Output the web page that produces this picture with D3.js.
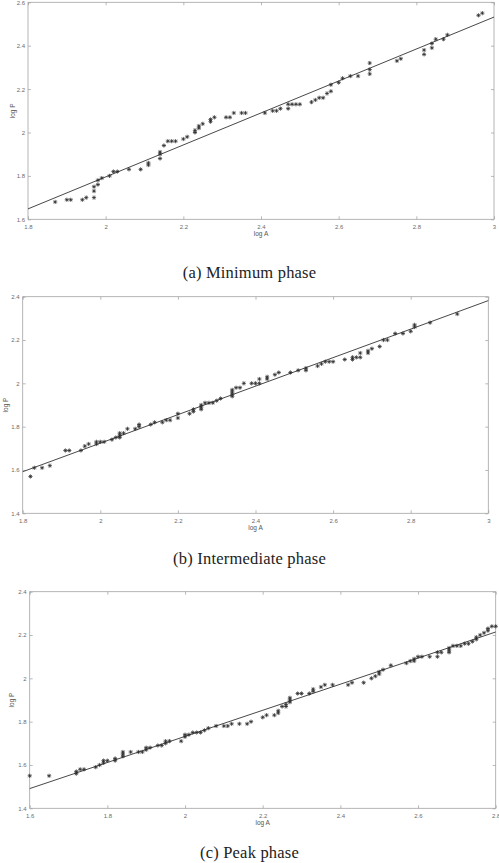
<!DOCTYPE html>
<html>
<head>
<meta charset="utf-8">
<script src="https://cdn.jsdelivr.net/npm/d3@7"></script>
<style>
  body { margin: 0; background: #fff; }
  svg { display: block; }
  .tick text { font-family: "Liberation Sans", Arial, sans-serif; font-size: 6px; fill: #6b6b6b; }
  .tick line { stroke: #8a8a8a; stroke-width: 0.6; }
  .axis-label { font-family: "Liberation Sans", Arial, sans-serif; font-size: 6.5px; fill: #555; }
  .caption { font-family: "Liberation Serif", "DejaVu Serif", serif; font-size: 16.5px; letter-spacing: 0.2px; fill: #222; }
</style>
</head>
<body>
<div id="chart"></div>
<script>
// (a) Minimum phase
const minA = [1.87,1.90,1.91,1.94,1.95,1.97,1.97,1.97,1.98,1.98,1.99,2.01,2.02,2.03,2.06,2.09,2.11,2.11,2.14,2.14,2.14,2.15,2.16,2.17,2.18,2.20,2.21,2.23,2.23,2.24,2.24,2.25,2.27,2.27,2.28,2.31,2.32,2.33,2.35,2.36,2.41,2.43,2.44,2.45,2.47,2.47,2.48,2.49,2.50,2.53,2.54,2.55,2.56,2.57,2.58,2.58,2.60,2.61,2.63,2.65,2.68,2.68,2.68,2.75,2.76,2.82,2.82,2.84,2.84,2.85,2.87,2.88,2.96,2.97];
const minP = [1.68,1.69,1.69,1.69,1.70,1.70,1.73,1.75,1.76,1.78,1.79,1.80,1.82,1.82,1.83,1.83,1.85,1.86,1.88,1.90,1.91,1.94,1.96,1.96,1.96,1.97,1.98,2.00,2.01,2.02,2.03,2.04,2.05,2.06,2.07,2.07,2.07,2.09,2.09,2.09,2.09,2.10,2.10,2.11,2.11,2.13,2.13,2.13,2.13,2.14,2.15,2.16,2.16,2.18,2.19,2.22,2.23,2.25,2.26,2.26,2.27,2.29,2.32,2.33,2.34,2.36,2.38,2.39,2.41,2.43,2.43,2.45,2.54,2.55];
const minFit = [[1.8, 1.648], [3.0, 2.532]];

// (b) Intermediate phase
const midA = [1.82,1.83,1.85,1.87,1.91,1.92,1.95,1.96,1.97,1.99,1.99,2.00,2.01,2.03,2.04,2.05,2.05,2.05,2.06,2.07,2.09,2.10,2.10,2.13,2.14,2.16,2.17,2.18,2.20,2.20,2.23,2.24,2.24,2.26,2.26,2.26,2.27,2.28,2.29,2.30,2.31,2.34,2.34,2.34,2.34,2.35,2.36,2.37,2.39,2.40,2.41,2.41,2.43,2.43,2.45,2.46,2.49,2.51,2.53,2.53,2.56,2.57,2.58,2.59,2.60,2.63,2.65,2.65,2.66,2.67,2.67,2.69,2.69,2.70,2.72,2.73,2.74,2.76,2.78,2.80,2.81,2.81,2.85,2.92];
const midP = [1.57,1.61,1.61,1.62,1.69,1.69,1.69,1.71,1.72,1.72,1.73,1.73,1.73,1.74,1.75,1.75,1.76,1.77,1.77,1.79,1.79,1.80,1.81,1.81,1.82,1.82,1.83,1.83,1.84,1.86,1.86,1.87,1.88,1.88,1.89,1.90,1.91,1.91,1.91,1.92,1.93,1.94,1.95,1.96,1.97,1.98,1.98,2.00,2.00,2.00,2.00,2.02,2.02,2.03,2.04,2.05,2.05,2.06,2.06,2.07,2.08,2.09,2.10,2.10,2.10,2.11,2.11,2.12,2.12,2.12,2.14,2.14,2.15,2.16,2.17,2.20,2.20,2.23,2.23,2.24,2.26,2.27,2.28,2.32];
const midFit = [[1.8, 1.592], [3.0, 2.382]];

// (c) Peak phase
const peakA = [1.60,1.65,1.72,1.72,1.73,1.74,1.77,1.78,1.79,1.79,1.80,1.82,1.82,1.84,1.84,1.84,1.86,1.88,1.89,1.90,1.90,1.91,1.93,1.94,1.95,1.95,1.96,1.99,2.00,2.00,2.01,2.02,2.03,2.04,2.05,2.06,2.08,2.10,2.11,2.12,2.14,2.16,2.17,2.20,2.21,2.23,2.24,2.24,2.25,2.26,2.26,2.27,2.27,2.27,2.29,2.30,2.32,2.33,2.33,2.35,2.36,2.38,2.42,2.43,2.46,2.48,2.49,2.50,2.50,2.51,2.53,2.57,2.58,2.59,2.59,2.60,2.61,2.63,2.65,2.65,2.66,2.68,2.68,2.68,2.69,2.70,2.71,2.72,2.73,2.74,2.75,2.75,2.76,2.77,2.78,2.78,2.79,2.80];
const peakP = [1.55,1.55,1.56,1.57,1.58,1.58,1.59,1.60,1.61,1.62,1.62,1.62,1.63,1.64,1.65,1.66,1.66,1.66,1.66,1.67,1.68,1.68,1.69,1.69,1.70,1.71,1.71,1.71,1.73,1.74,1.74,1.75,1.75,1.75,1.76,1.77,1.78,1.78,1.78,1.79,1.79,1.79,1.80,1.82,1.83,1.83,1.84,1.85,1.87,1.87,1.88,1.89,1.90,1.91,1.93,1.93,1.93,1.94,1.95,1.96,1.97,1.97,1.97,1.98,1.98,2.00,2.01,2.02,2.03,2.04,2.06,2.07,2.08,2.08,2.09,2.10,2.10,2.10,2.10,2.12,2.12,2.12,2.13,2.14,2.15,2.15,2.15,2.16,2.16,2.17,2.18,2.19,2.20,2.21,2.22,2.23,2.24,2.24];
const peakFit = [[1.6, 1.491], [2.8, 2.214]];

// tick values
const ticksA1 = [1.8, 2, 2.2, 2.4, 2.6, 2.8, 3];
const ticksP1 = [1.6, 1.8, 2, 2.2, 2.4, 2.6];
const ticksA2 = [1.8, 2, 2.2, 2.4, 2.6, 2.8, 3];
const ticksP2 = [1.4, 1.6, 1.8, 2, 2.2, 2.4];
const ticksA3 = [1.6, 1.8, 2, 2.2, 2.4, 2.6, 2.8];
const ticksP3 = [1.4, 1.6, 1.8, 2, 2.2, 2.4];

const captions = ["(a) Minimum phase", "(b) Intermediate phase", "(c) Peak phase"];

const W = 499, H = 863;

const panels = [
  { a: minA, p: minP, fit: minFit, ta: ticksA1, tp: ticksP1,
    box: { left: 28, right: 494, top: 2.3, bottom: 219.3 }, ylabX: 12.5, capY: 278 },
  { a: midA, p: midP, fit: midFit, ta: ticksA2, tp: ticksP2,
    box: { left: 22.7, right: 488.3, top: 296.7, bottom: 513.3 }, ylabX: 6, capY: 564 },
  { a: peakA, p: peakP, fit: peakFit, ta: ticksA3, tp: ticksP3,
    box: { left: 29.7, right: 495.7, top: 591.7, bottom: 808.3 }, ylabX: 12, capY: 858 }
];

const svg = d3.select("#chart")
  .append("svg")
  .attr("width", W)
  .attr("height", H);

const fmt = (d) => String(+d.toFixed(1));

panels.forEach((cfg, i) => {
  const { box } = cfg;
  const x = d3.scaleLinear()
    .domain(d3.extent(cfg.ta))
    .range([box.left, box.right]);
  const y = d3.scaleLinear()
    .domain(d3.extent(cfg.tp))
    .range([box.bottom, box.top]);

  const g = svg.append("g");

  // Axes (ticks inward, on all four sides)
  g.append("g")
    .attr("transform", `translate(0,${box.bottom})`)
    .call(d3.axisBottom(x).tickValues(cfg.ta).tickFormat(fmt)
      .tickSizeInner(-3).tickSizeOuter(0).tickPadding(5));
  g.append("g")
    .attr("transform", `translate(0,${box.top})`)
    .call(d3.axisTop(x).tickValues(cfg.ta).tickFormat("")
      .tickSizeInner(-3).tickSizeOuter(0));
  g.append("g")
    .attr("transform", `translate(${box.left},0)`)
    .call(d3.axisLeft(y).tickValues(cfg.tp).tickFormat(fmt)
      .tickSizeInner(-3).tickSizeOuter(0).tickPadding(3));
  g.append("g")
    .attr("transform", `translate(${box.right},0)`)
    .call(d3.axisRight(y).tickValues(cfg.tp).tickFormat("")
      .tickSizeInner(-3).tickSizeOuter(0));

  g.selectAll(".domain").remove();

  // Frame
  g.append("rect")
    .attr("x", box.left)
    .attr("y", box.top)
    .attr("width", box.right - box.left)
    .attr("height", box.bottom - box.top)
    .attr("fill", "none")
    .attr("stroke", "#a3a3a3")
    .attr("stroke-width", 0.8);

  // Fitted line
  g.append("path")
    .datum(cfg.fit)
    .attr("fill", "none")
    .attr("stroke", "#333")
    .attr("stroke-width", 0.9)
    .attr("d", d3.line().x((d) => x(d[0])).y((d) => y(d[1])));

  // Asterisk markers
  const pts = cfg.a.map((v, j) => [v, cfg.p[j]]);
  const s = 2.1;
  g.append("g")
    .selectAll("path")
    .data(pts)
    .join("path")
    .attr("transform", (d) => `translate(${x(d[0])},${y(d[1])})`)
    .attr("d", `M${-s},0H${s}M0,${-s}V${s}M${-s * 0.7},${-s * 0.7}L${s * 0.7},${s * 0.7}M${-s * 0.7},${s * 0.7}L${s * 0.7},${-s * 0.7}`)
    .attr("stroke", "#2b2b2b")
    .attr("stroke-width", 0.75)
    .attr("fill", "none");

  // Axis labels
  g.append("text")
    .attr("class", "axis-label")
    .attr("x", (box.left + box.right) / 2)
    .attr("y", box.bottom + 17)
    .attr("text-anchor", "middle")
    .text("log A");

  g.append("text")
    .attr("class", "axis-label")
    .attr("transform", `translate(${cfg.ylabX},${(box.top + box.bottom) / 2}) rotate(-90)`)
    .attr("dy", "0.35em")
    .attr("text-anchor", "middle")
    .text("log P");

  // Caption
  svg.append("text")
    .attr("class", "caption")
    .attr("x", W / 2)
    .attr("y", cfg.capY)
    .attr("text-anchor", "middle")
    .text(captions[i]);
});
</script>
</body>
</html>
